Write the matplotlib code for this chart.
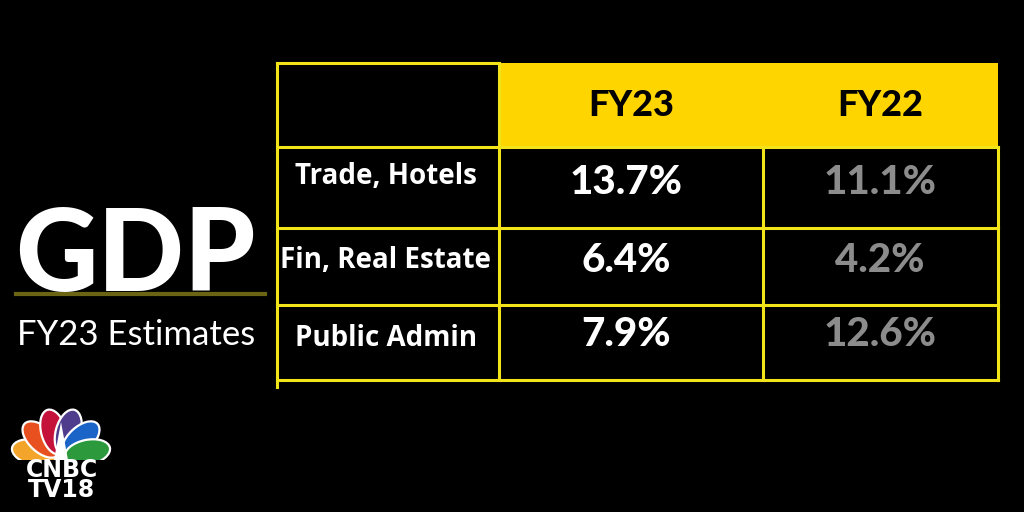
import numpy as np
import matplotlib.pyplot as plt
from matplotlib.patches import Rectangle, Ellipse, Polygon

# data
rows = ['Trade, Hotels', 'Fin, Real Estate', 'Public Admin']
fy23 = [13.7, 6.4, 7.9]
fy22 = [11.1, 4.2, 12.6]
headers = ['FY23', 'FY22']
title = 'GDP'
subtitle = 'FY23 Estimates'
logo_text = 'CNBC\nTV18'

# colours
bg = 'black'
yellow_fill = '#ffd500'
yellow_line = '#f3e41a'
grey = '#8c8c8c'

fig = plt.figure(figsize=(10.24, 5.12), dpi=100, facecolor=bg)
ax = fig.add_axes([0, 0, 1, 1])
ax.set_xlim(0, 1024)
ax.set_ylim(512, 0)
ax.axis('off')
ax.set_facecolor(bg)

# table grid (pixel layout)
col_x = [277, 499, 763, 998]
row_y = [63, 147, 228, 305, 380]

ax.add_patch(Rectangle((col_x[1], row_y[0]), col_x[3] - col_x[1], row_y[1] - row_y[0],
                       facecolor=yellow_fill, edgecolor='none', zorder=1))

lw = 2.2
# horizontal lines
ax.plot([col_x[0], col_x[1]], [row_y[0], row_y[0]], color=yellow_line, lw=lw, zorder=2)
for y in row_y[1:]:
    ax.plot([col_x[0], col_x[3]], [y, y], color=yellow_line, lw=lw, zorder=2)
# vertical lines
ax.plot([col_x[0], col_x[0]], [row_y[0], 387], color=yellow_line, lw=lw, zorder=2)
ax.plot([col_x[1], col_x[1]], [row_y[0], row_y[4]], color=yellow_line, lw=lw, zorder=2)
ax.plot([col_x[2], col_x[2]], [row_y[1], row_y[4]], color=yellow_line, lw=lw, zorder=2)
ax.plot([col_x[3], col_x[3]], [row_y[1], row_y[4]], color=yellow_line, lw=lw, zorder=2)

# header text
for i, h in enumerate(headers):
    cx = (col_x[i + 1] + col_x[i + 2]) / 2
    ax.text(cx, 106, h, color='black', fontsize=26, fontweight='black', family='Lato',
            ha='center', va='center', zorder=3)

# rows
label_y = [177, 260, 338]
val_y = [182, 261, 334]
for i, name in enumerate(rows):
    ax.text(386, label_y[i], name, color='white', fontsize=20, fontweight='bold',
            family='Open Sans', ha='center', va='center', zorder=3)
    ax.text(626, val_y[i], f'{fy23[i]:.1f}%', color='white', fontsize=29, fontweight='black',
            family='Lato', ha='center', va='center', zorder=3)
    ax.text(880, val_y[i], f'{fy22[i]:.1f}%', color=grey, fontsize=29, fontweight='black',
            family='Lato', ha='center', va='center', zorder=3)

# title block
ax.text(15, 291, title, color='white', fontsize=82, fontweight='black', family='Lato',
        ha='left', va='baseline')
ax.plot([16, 265], [294, 294], color='#6b6412', lw=3)
ax.text(17, 345, subtitle, color='white', fontsize=25, family='Lato',
        ha='left', va='baseline')

# peacock logo
base = (61, 458)
feather_cols = ['#f2a52a', '#e8501f', '#c4123a', '#4f3c8c', '#1a64c8', '#2c9a3c']
angles = np.linspace(168, 12, 6)
for a, c in zip(angles, feather_cols):
    r = np.deg2rad(a)
    cx = base[0] + 27 * np.cos(r)
    cy = base[1] - 27 * np.sin(r)
    ax.add_patch(Ellipse((cx, cy), 46, 25, angle=-a, facecolor=c, edgecolor='white',
                         lw=1.6, zorder=4))
ax.add_patch(Polygon([[54, 460], [68, 460], [61, 422]], closed=True, facecolor='white',
                     edgecolor='none', zorder=5))
ax.add_patch(Rectangle((8, 460), 106, 40, facecolor=bg, edgecolor='none', zorder=5))
ax.text(62, 480, logo_text, color='white', fontsize=17, fontweight='heavy',
        family='DejaVu Sans', ha='center', va='center', multialignment='center',
        linespacing=0.8, zorder=6)

fig.savefig('out.png', dpi=100, facecolor=bg)
